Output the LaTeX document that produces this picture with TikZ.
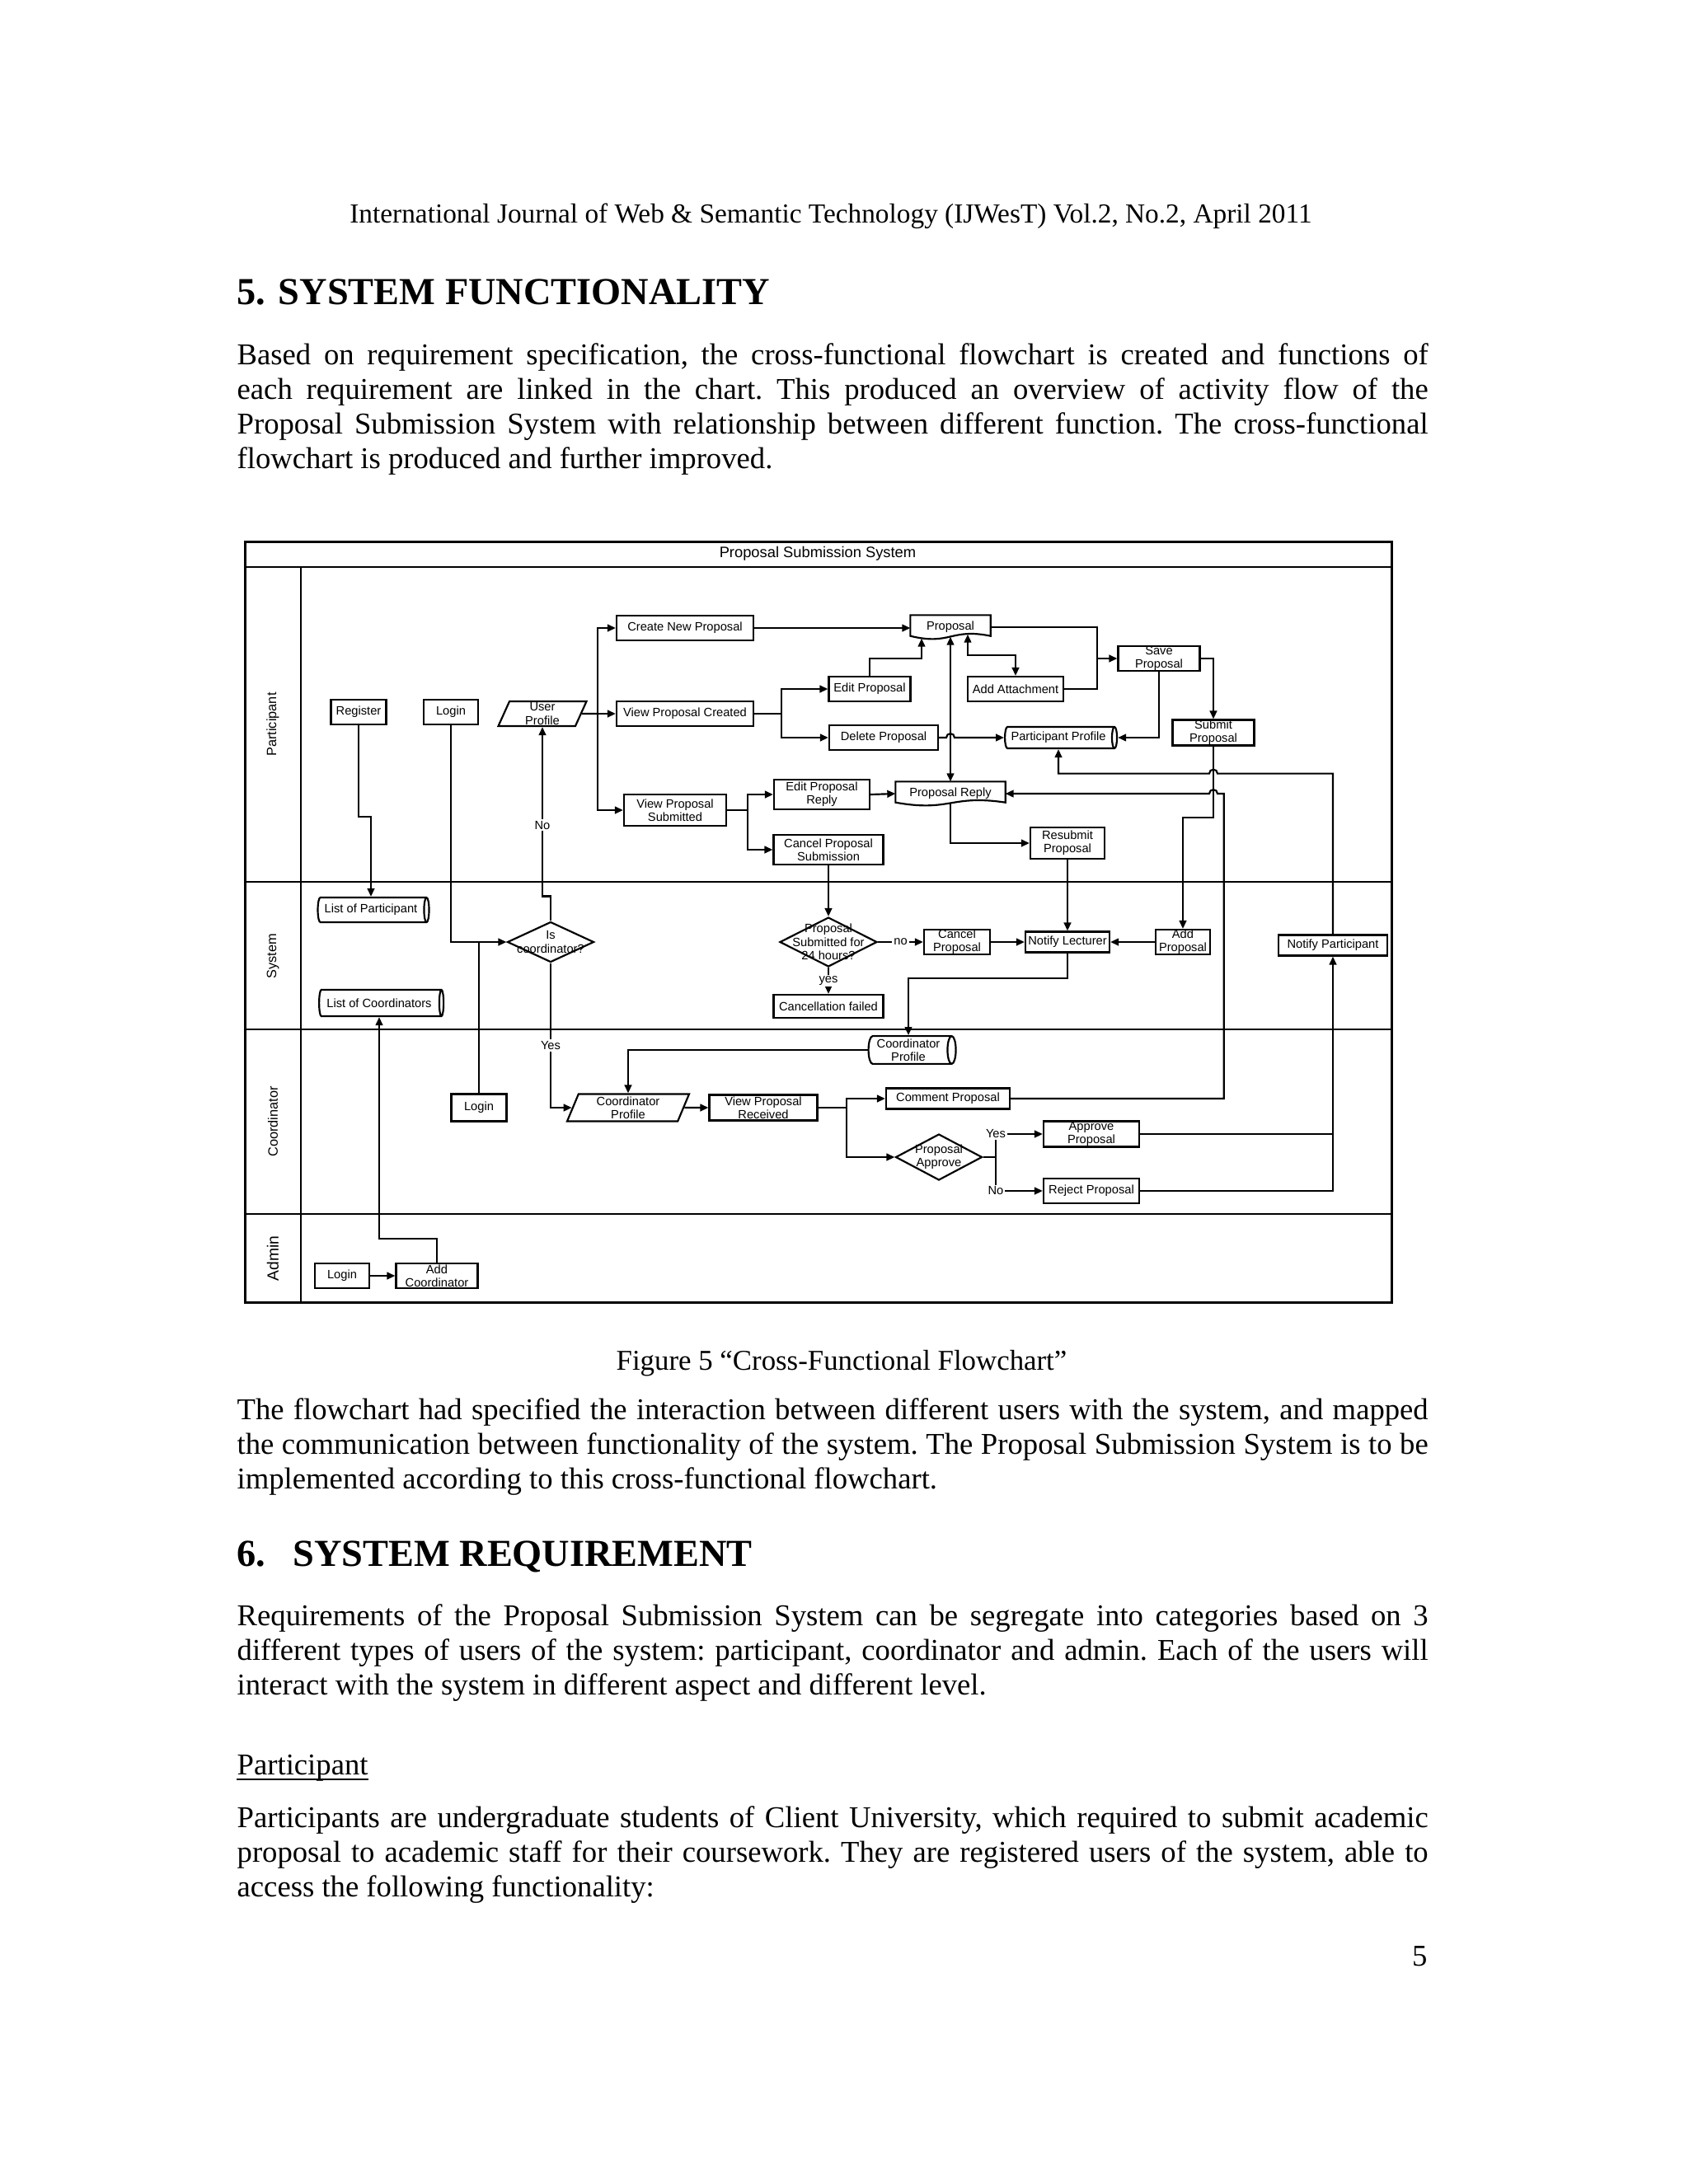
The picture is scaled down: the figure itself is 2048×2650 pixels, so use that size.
\documentclass[tikz,border=0pt]{standalone}
\usepackage{fontspec}
\setmainfont{Liberation Serif}
\newfontfamily\diagfont{Liberation Sans}
\usepackage{tikz}
\usetikzlibrary{arrows.meta,positioning,calc,shapes.geometric}
\newlength{\pxu}
\setlength{\pxu}{0.298828bp}
\newcommand{\boxfont}{\diagfont\fontsize{4.4}{4.9}\selectfont}
\newcommand{\bodyfont}{\fontsize{11}{12.65}\selectfont\frenchspacing\hyphenpenalty=10000\exhyphenpenalty=10000}

\begin{document}
\begin{tikzpicture}[x=\pxu,y=-\pxu,
  sz/.style 2 args={minimum width=#1*\pxu,minimum height=#2*\pxu},
  txt/.style={inner sep=0pt,font=\bodyfont},
  para/.style={txt,anchor=base west,text width=1445*\pxu,align=justify},
  box/.style={draw,rectangle,font=\boxfont,align=center,inner sep=0pt,line width=0.65pt},
  dbase/.style={draw,cylinder,shape aspect=0.3,font=\boxfont,align=center,inner sep=1pt,line width=0.65pt},
  io/.style={draw,trapezium,trapezium left angle=63,trapezium right angle=117,trapezium stretches body,font=\boxfont,align=center,inner sep=0pt,line width=0.65pt},
  decision/.style={draw,diamond,inner sep=0pt,line width=0.65pt},
  dlabel/.style={font=\boxfont,align=center,inner sep=0pt},
  docbox/.style={rectangle,font=\boxfont,align=center,inner sep=0pt},
  lanelbl/.style={rotate=90,font=\diagfont\fontsize{4.9}{5.5}\selectfont},
  yn/.style={font=\boxfont,fill=white,inner sep=0.6pt},
  link/.style={line width=0.65pt},
  flow/.style={line width=0.65pt,-{Triangle[length=3pt,width=2.6pt]}},
  flow2/.style={line width=0.65pt,{Triangle[length=3pt,width=2.6pt]}-{Triangle[length=3pt,width=2.6pt]}}]
\useasboundingbox (0,0) rectangle (2048,2650);

\node[txt,anchor=base,font=\fontsize{10}{12}\selectfont] (journal) at (1008,270) {International Journal of Web \& Semantic Technology (IJWesT) Vol.2, No.2, April 2011};
\node[txt,anchor=base west,font=\fontsize{13.9}{16}\selectfont\bfseries] (sec5) at (287,369) {5. SYSTEM FUNCTIONALITY};
\node[para] (intro) at (287,442) {Based on requirement specification, the cross-functional flowchart is created and functions of\linebreak each requirement are linked in the chart. This produced an overview of activity flow of the\linebreak Proposal Submission System with relationship between different function. The cross-functional\linebreak flowchart is produced and further improved.};

\draw[line width=0.9pt] (297,657) rectangle (1688,1580);
\draw[line width=0.8pt] (297,688) -- (1688,688);
\draw[line width=0.8pt] (365,688) -- (365,1580);
\foreach \yy in {1070,1249,1473}
  \draw[line width=0.8pt] (297,\yy) -- (1688,\yy);
\node[font=\diagfont\fontsize{5.5}{6}\selectfont] (pss) at (992,672) {Proposal Submission System};
\node[lanelbl] (lanep) at (331,879) {Participant};
\node[lanelbl] (lanes) at (331,1160) {System};
\node[lanelbl] (lanec) at (331,1361) {Coordinator};
\node[lanelbl,font=\diagfont\fontsize{5.8}{6.5}\selectfont] (lanea) at (331,1527) {Admin};

\node[box,sz={67}{30}] (reg) at (435,864) {Register};
\node[box,sz={66}{30}] (plogin) at (547,864) {Login};
\node[io,sz={107}{30}] (uprof) at (658,866) {User\\Profile};
\node[box,sz={166}{30}] (cnew) at (831,762) {Create New Proposal};
\node[box,sz={166}{30}] (vcreated) at (831,866) {View Proposal Created};
\node[box,sz={124}{38}] (vsub) at (819,983) {View Proposal\\Submitted};
\node[docbox,sz={96}{28}] (prop) at (1153,761) {Proposal};
\node[box,sz={99}{30}] (editp) at (1055,836) {Edit Proposal};
\node[box,sz={116}{30}] (attach) at (1232,836) {Add Attachment};
\node[box,sz={99}{30}] (save) at (1406,799) {Save\\Proposal};
\node[box,sz={132}{30}] (delp) at (1072,895) {Delete Proposal};
\node[dbase,sz={26}{136}] (pprof) at (1284,895) {Participant Profile};
\node[box,sz={99}{31}] (submit) at (1472,889) {Submit\\Proposal};
\node[box,sz={116}{36}] (editr) at (997,964) {Edit Proposal\\Reply};
\node[docbox,sz={132}{28}] (preply) at (1153,963) {Proposal Reply};
\node[box,sz={133}{36}] (cancelsub) at (1005,1031) {Cancel Proposal\\Submission};
\node[box,sz={90}{38}] (resub) at (1295,1023) {Resubmit\\Proposal};

\node[dbase,sz={30}{135}] (lpart) at (450,1104) {List of Participant};
\node[decision,sz={105}{49},label={[dlabel]center:Is\\coordinator?}] (iscoord) at (668,1143) {};
\node[decision,sz={118}{60},label={[dlabel]center:Proposal\\Submitted for\\24 hours?}] (psub) at (1005,1143) {};
\node[box,sz={80}{30}] (cancelp) at (1161,1143) {Cancel\\Proposal};
\node[box,sz={102}{25}] (notlec) at (1295,1143) {Notify Lecturer};
\node[box,sz={66}{30}] (addp) at (1435,1143) {Add\\Proposal};
\node[box,sz={132}{25}] (notpart) at (1617,1147) {Notify Participant};
\node[box,sz={133}{28}] (cfail) at (1005,1221) {Cancellation failed};
\node[dbase,sz={32}{151}] (lcoord) at (460,1217) {List of Coordinators};

\node[dbase,sz={30}{106}] (cprofdb) at (1102,1274) {Coordinator\\Profile};
\node[box,sz={67}{33}] (clogin) at (581,1344) {Login};
\node[io,sz={148}{33}] (cprof) at (762,1344) {Coordinator\\Profile};
\node[box,sz={131}{31}] (vrecv) at (926,1344) {View Proposal\\Received};
\node[box,sz={150}{25}] (comment) at (1150,1333) {Comment Proposal};
\node[decision,sz={105}{56},label={[dlabel]center:Proposal\\Approve}] (papprove) at (1139,1404) {};
\node[box,sz={116}{31}] (approve) at (1324,1376) {Approve\\Proposal};
\node[box,sz={116}{30}] (reject) at (1324,1445) {Reject Proposal};

\node[box,sz={66}{30}] (alogin) at (415,1548) {Login};
\node[box,sz={99}{30}] (addc) at (530,1548) {Add\\Coordinator};

\draw[line width=0.65pt] (prop.north west) -- (prop.north east) -- ($(prop.south east)+(0,-4)$) .. controls ($(prop.south)+(0,-14)$) and ($(prop.south)+(0,8)$) .. ($(prop.south west)+(0,-4)$) -- cycle;
\draw[line width=0.65pt] (preply.north west) -- (preply.north east) -- ($(preply.south east)+(0,-4)$) .. controls ($(preply.south)+(0,-14)$) and ($(preply.south)+(0,8)$) .. ($(preply.south west)+(0,-4)$) -- cycle;

\draw[flow] (reg.south) -- ++(0,111) -| (lpart.north);
\draw[flow] (plogin.south) |- (iscoord.west);
\draw[link] (clogin.north) -- (clogin.north |- iscoord.west);
\draw[flow] (iscoord.north) -- ++(0,-30) -| node[yn,pos=0.71] {No} (uprof.south);
\draw[flow] (iscoord.south) |- node[yn,pos=0.285] {Yes} (cprof.west);

\coordinate (fork1) at (725,866);
\draw[link] (uprof.east) -- (fork1);
\draw[flow] (fork1) |- (cnew.west);
\draw[flow] (fork1) -- (vcreated.west);
\draw[flow] (fork1) |- (vsub.west);
\coordinate (fork2) at (948,866);
\draw[link] (vcreated.east) -- (fork2);
\draw[flow] (fork2) |- (editp.west);
\draw[flow] (fork2) |- (delp.west);
\coordinate (fork3) at (907,983);
\draw[link] (vsub.east) -- (fork3);
\draw[flow] (fork3) |- (editr.west);
\draw[flow] (fork3) |- (cancelsub.west);

\draw[flow] (cnew.east) -- (cnew.east -| prop.west);
\draw[flow] (editp.north) -- ++(0,-21) -| ($(prop.south)+(-35,-1)$);
\draw[flow2] (attach.north) -- ++(0,-25) -| ($(prop.south)+(21,-6)$);
\draw[flow2] ($(prop.south)+(0,-3)$) -- (preply.north);
\draw[link] (prop.east) -| (1331,799) coordinate (j1);
\draw[link] (attach.east) -| (j1);
\draw[flow] (j1) -- (save.west);
\draw[flow] (save.east) -| (submit.north);
\draw[flow] (save.south) |- (pprof.east);
\draw[flow] (delp.east) -- ($(delp.east -| prop.south)+(-5,0)$) arc[start angle=180,end angle=0,radius=5*\pxu] -- (pprof.west);
\draw[flow] (editr.east) -- (preply.west);
\draw[flow] ($(preply.south)+(0,-3)$) |- (resub.west);

\draw[flow] (cancelsub.south) -- (psub.north);
\draw[flow] (psub.east) -- node[yn] {no} (cancelp.west);
\draw[flow] (psub.south) -- node[yn] {yes} (cfail.north);
\draw[flow] (cancelp.east) -- (notlec.west);
\draw[flow] (addp.west) -- (notlec.east);
\draw[flow] (resub.south) -- (notlec.north);
\draw[flow] (submit.south) -- ++(0,86) -| (addp.north);
\draw[flow] (notlec.south) -- ++(0,30) -| (cprofdb.north);
\draw[flow] (cprofdb.west) -| (cprof.north);

\draw[flow] (cprof.east) -- (vrecv.west);
\coordinate (fork4) at (1027,1344);
\draw[link] (vrecv.east) -- (fork4);
\draw[flow] (fork4) |- (comment.west);
\draw[flow] (fork4) |- (papprove.west);
\coordinate (fork5) at (1208,1404);
\draw[link] (papprove.east) -- (fork5);
\draw[flow] (fork5) |- node[yn,pos=0.5] {Yes} (approve.west);
\draw[flow] (fork5) |- node[yn,pos=0.5] {No} (reject.west);
\draw[flow] (comment.east) -| ($(preply.east)+(265,0)$) -- ($(submit.south |- preply.east)+(5,0)$) arc[start angle=0,end angle=180,radius=5*\pxu] -- (preply.east);
\draw[link] (approve.east) -- (approve.east -| notpart.south);
\draw[flow] (reject.east) -| (notpart.south);
\draw[flow] (notpart.north) |- ($(submit.south)+(5,33)$) arc[start angle=0,end angle=180,radius=5*\pxu] -| (pprof.south);

\draw[flow] (alogin.east) -- (addc.west);
\draw[flow] (addc.north) -- ++(0,-29) -| (lcoord.south);

\node[txt,anchor=base,font=\fontsize{10.45}{12}\selectfont] (caption) at (1021,1662) {Figure 5 ``Cross-Functional Flowchart''};
\node[para] (summary) at (287,1722) {The flowchart had specified the interaction between different users with the system, and mapped\linebreak the communication between functionality of the system. The Proposal Submission System is to be\linebreak implemented according to this cross-functional flowchart.};
\node[txt,anchor=base west,font=\fontsize{13.9}{16}\selectfont\bfseries] (sec6) at (287,1900) {6.\hspace{33\pxu}SYSTEM REQUIREMENT};
\node[para] (reqs) at (287,1972) {Requirements of the Proposal Submission System can be segregate into categories based on 3\linebreak different types of users of the system: participant, coordinator and admin. Each of the users will\linebreak interact with the system in different aspect and different level.};
\node[txt,anchor=base west] (partlbl) at (287,2153) {Participant};
\draw[line width=0.5pt] ($(partlbl.base west)+(0,6)$) -- ($(partlbl.base east)+(0,6)$);
\node[para] (partdesc) at (287,2217) {Participants are undergraduate students of Client University, which required to submit academic\linebreak proposal to academic staff for their coursework. They are registered users of the system, able to\linebreak access the following functionality:};
\node[txt,anchor=base east] (pageno) at (1732,2385) {5};
\end{tikzpicture}
\end{document}
